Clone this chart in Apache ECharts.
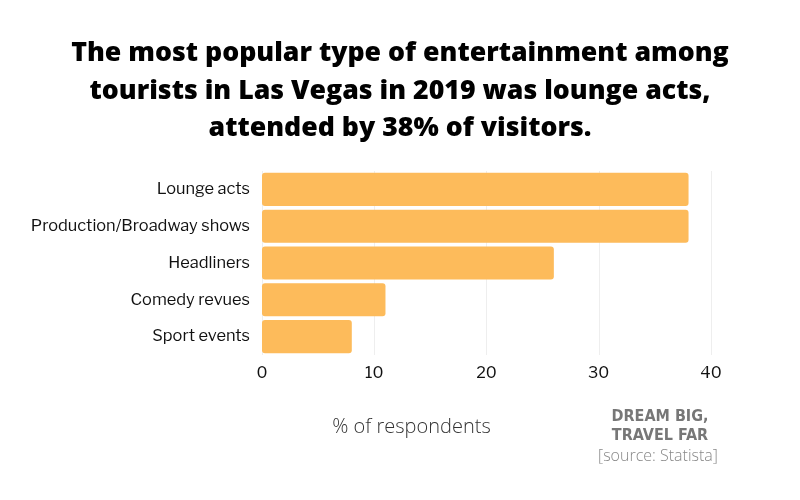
<!DOCTYPE html>
<html><head><meta charset="utf-8">
<script src="https://cdn.jsdelivr.net/npm/echarts@6/dist/echarts.min.js"></script>
<style>html,body{margin:0;padding:0;background:#fff}#c{width:800px;height:500px}</style>
</head><body><div id="c"></div>
<script>
const categories = ["Lounge acts", "Production/Broadway shows", "Headliners", "Comedy revues", "Sport events"];
const values = [38, 38, 26, 11, 8];
const xTicks = [0, 10, 20, 30, 40];
const titleText = "The most popular type of entertainment among\ntourists in Las Vegas in 2019 was lounge acts,\nattended by 38% of visitors.";

const chart = echarts.init(document.getElementById('c'), null, {renderer: 'canvas'});
chart.setOption({
  backgroundColor: '#fff',
  animation: false,
  title: {
    text: titleText,
    left: 'center', top: 30,
    textStyle: {fontFamily: 'Open Sans', fontWeight: 800, fontSize: 26.7, lineHeight: 37.5, color: '#000'}
  },
  grid: {left: 262, right: 89, top: 171, bottom: 145, containLabel: false},
  xAxis: {
    type: 'value', min: xTicks[0], max: xTicks[xTicks.length - 1], interval: 10,
    axisLine: {show: false}, axisTick: {show: false},
    splitLine: {show: true, lineStyle: {color: '#eeeeee', width: 1}},
    axisLabel: {fontFamily: 'Libre Franklin, Inter, sans-serif', fontSize: 16, color: '#111', margin: 10},
    name: '% of respondents', nameLocation: 'middle', nameGap: 62,
    nameTextStyle: {fontFamily: 'Open Sans', fontWeight: 300, fontSize: 20, color: '#333', padding: [0, 150, 0, 0]}
  },
  yAxis: {
    type: 'category', data: categories, inverse: true,
    axisLine: {show: false}, axisTick: {show: false},
    axisLabel: {fontFamily: 'Libre Franklin, Inter, sans-serif', fontSize: 16.4, color: '#111', margin: 12}
  },
  series: [{
    type: 'bar', data: values, barCategoryGap: '10%',
    itemStyle: {color: '#FDBB5B', borderRadius: 3}
  }],
  graphic: [
    {type: 'text', x: 660, y: 407, style: {text: 'DREAM BIG,\nTRAVEL FAR', fontFamily: 'DejaVu Sans Condensed, sans-serif', fontWeight: 'bold', fontSize: 16, lineHeight: 19, fill: '#777', align: 'center'}},
    {type: 'text', x: 658, y: 448, style: {text: '[source: Statista]', fontFamily: 'Open Sans', fontWeight: 300, fontSize: 16, fill: '#888', align: 'center'}}
  ]
});
</script></body></html>
